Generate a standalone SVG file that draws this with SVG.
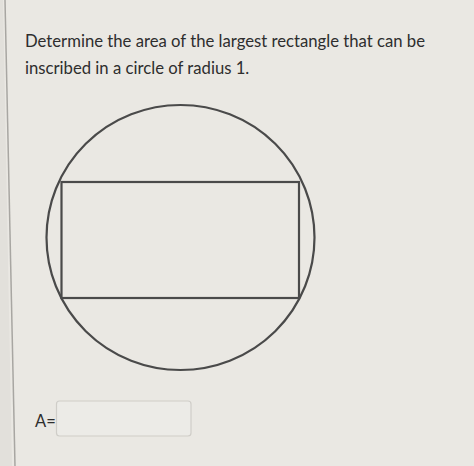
<svg xmlns="http://www.w3.org/2000/svg" width="474" height="466" viewBox="0 0 474 466">
  <style>
    .txt { font-family: Lato, "Liberation Sans", sans-serif; fill: #2e2e2e; }
    .shape { fill: none; stroke: #4a4a4a; stroke-width: 2.2; }
  </style>
  <rect x="0" y="0" width="474" height="466" fill="#eae8e3"/>
  <polygon points="0,0 3,0 12,466 0,466" fill="#e2e0db"/>
  <line x1="5" y1="0" x2="15" y2="466" stroke="#a8a6a2" stroke-width="1.5"/>
  <g id="question">
    <text class="txt" x="25" y="47" font-size="16.7">Determine the area of the largest rectangle that can be</text>
    <text class="txt" x="25" y="74" font-size="16.7">inscribed in a circle of radius 1.</text>
  </g>
  <g id="circle">
    <ellipse class="shape" cx="180.5" cy="237.5" rx="134" ry="132.5"/>
  </g>
  <g id="rectangle">
    <rect class="shape" x="61.5" y="182" width="237.5" height="116"/>
  </g>
  <g id="answer">
    <text class="txt" x="35" y="427" font-size="16.5">A=</text>
    <rect x="56.5" y="401" width="134.5" height="35" rx="3" fill="#ecebe7" stroke="#cfcdc8" stroke-width="1.2"/>
  </g>
</svg>
